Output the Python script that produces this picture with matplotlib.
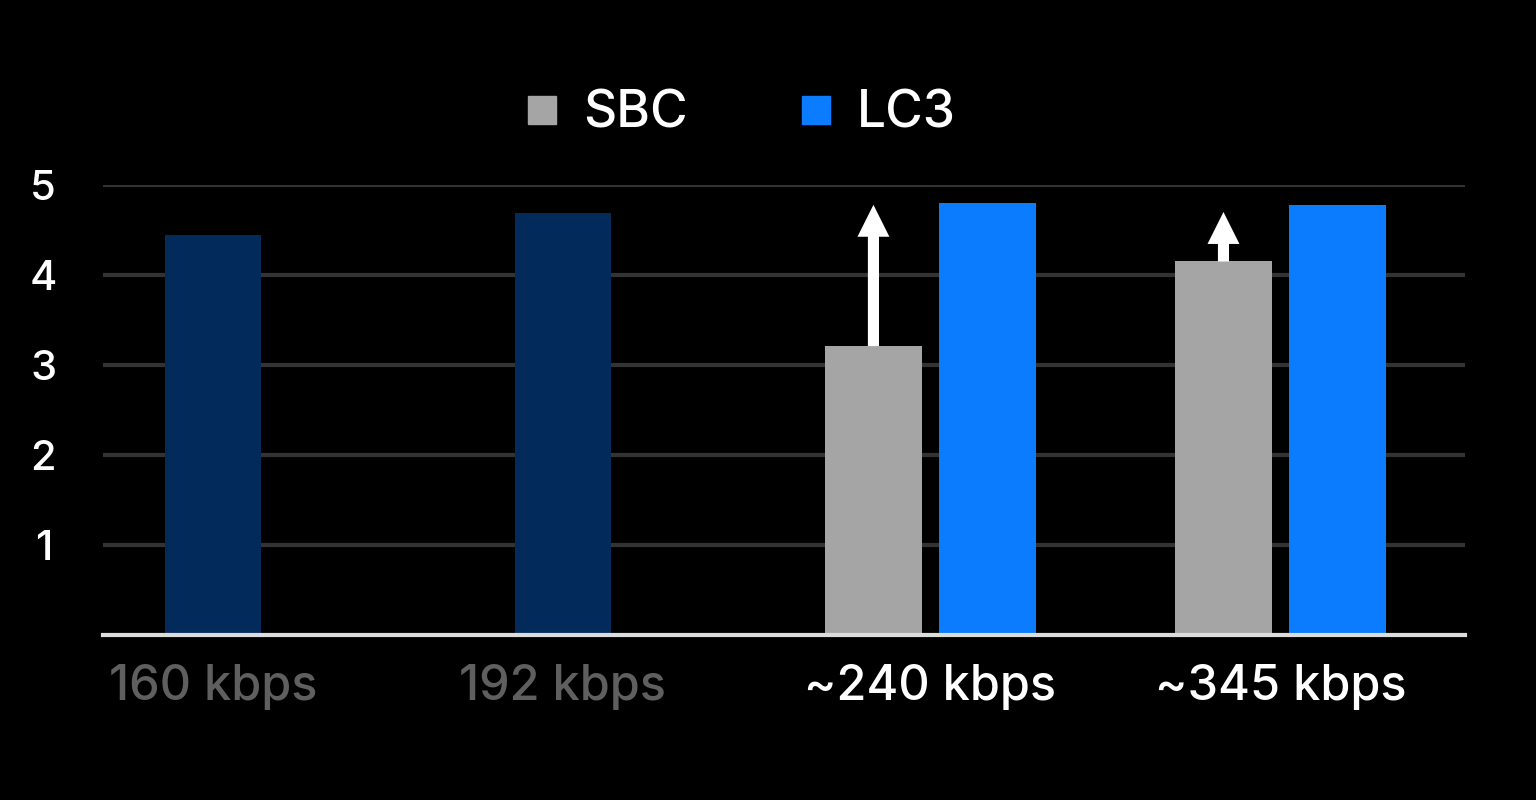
import numpy as np
from matplotlib import pyplot as plt
from matplotlib.lines import Line2D

# MOS-style scores
labels = ["160 kbps", "192 kbps", "~240 kbps", "~345 kbps"]
label_colors = ["#5f5f5f", "#5f5f5f", "white", "white"]
legacy = [4.45, 4.69]          # dark navy bars (single bar per group)
sbc = [3.21, 4.15]             # SBC at ~240 / ~345
lc3 = [4.80, 4.78]             # LC3 at ~240 / ~345
arrow_tip = [4.78, 4.70]       # where the white arrows end

navy = "#022b5c"
gray = "#a5a5a5"
blue = "#0a7cfd"

plt.rcParams['font.family'] = ['Inter', 'DejaVu Sans']
plt.rcParams['font.weight'] = 'medium'

xpos = np.array([0, 1.0, 2.05, 3.05])
w = 0.275
off = 0.163

fig = plt.figure(figsize=(15.36, 8), dpi=100, facecolor='black')
ax = fig.add_axes([103 / 1536, 1 - 635 / 800, 1362 / 1536, 450 / 800])
ax.set_facecolor('black')

ax.bar(xpos[:2], legacy, width=w, color=navy, zorder=3)
ax.bar(xpos[2:] - off, sbc, width=w, color=gray, zorder=3)
ax.bar(xpos[2:] + off, lc3, width=w, color=blue, zorder=3)

for x, y0, y1 in zip(xpos[2:] - off, sbc, arrow_tip):
    ax.annotate("", xy=(x, y1), xytext=(x, y0),
                arrowprops=dict(arrowstyle="simple,head_length=2.3,head_width=2.3,tail_width=0.8",
                                color="white", lw=0, shrinkA=0, shrinkB=0),
                zorder=4)

ax.set_xlim(-0.314, 3.577)
ax.set_ylim(0, 5)
ax.set_yticks([1, 2, 3, 4, 5])
ax.yaxis.grid(True, color="#333333", lw=3, zorder=0)
for s in ['top', 'right', 'left']:
    ax.spines[s].set_visible(False)
ax.spines['bottom'].set_color('#dcdcdc')
ax.spines['bottom'].set_linewidth(3)
ax.spines['bottom'].set_zorder(5)

ax.tick_params(axis='y', length=0, pad=43, labelsize=30, labelcolor='white')
ax.tick_params(axis='x', length=0, pad=21, labelsize=35)
ax.set_xticks(xpos)
ax.set_xticklabels(labels)
for t, c in zip(ax.get_xticklabels(), label_colors):
    t.set_color(c)
for t in ax.get_yticklabels():
    t.set_horizontalalignment('center')

handles = [Line2D([], [], ls='none', marker='s', ms=20, color=gray),
           Line2D([], [], ls='none', marker='s', ms=20, color=blue)]
leg = fig.legend(handles, ["SBC", "LC3"], loc='center', bbox_to_anchor=(736 / 1536, 1 - 114 / 800),
                 ncol=2, frameon=False, fontsize=37, labelcolor='white',
                 handletextpad=0.3, columnspacing=2.0, handlelength=1.0)

fig.savefig("out.png", dpi=100, facecolor='black')
